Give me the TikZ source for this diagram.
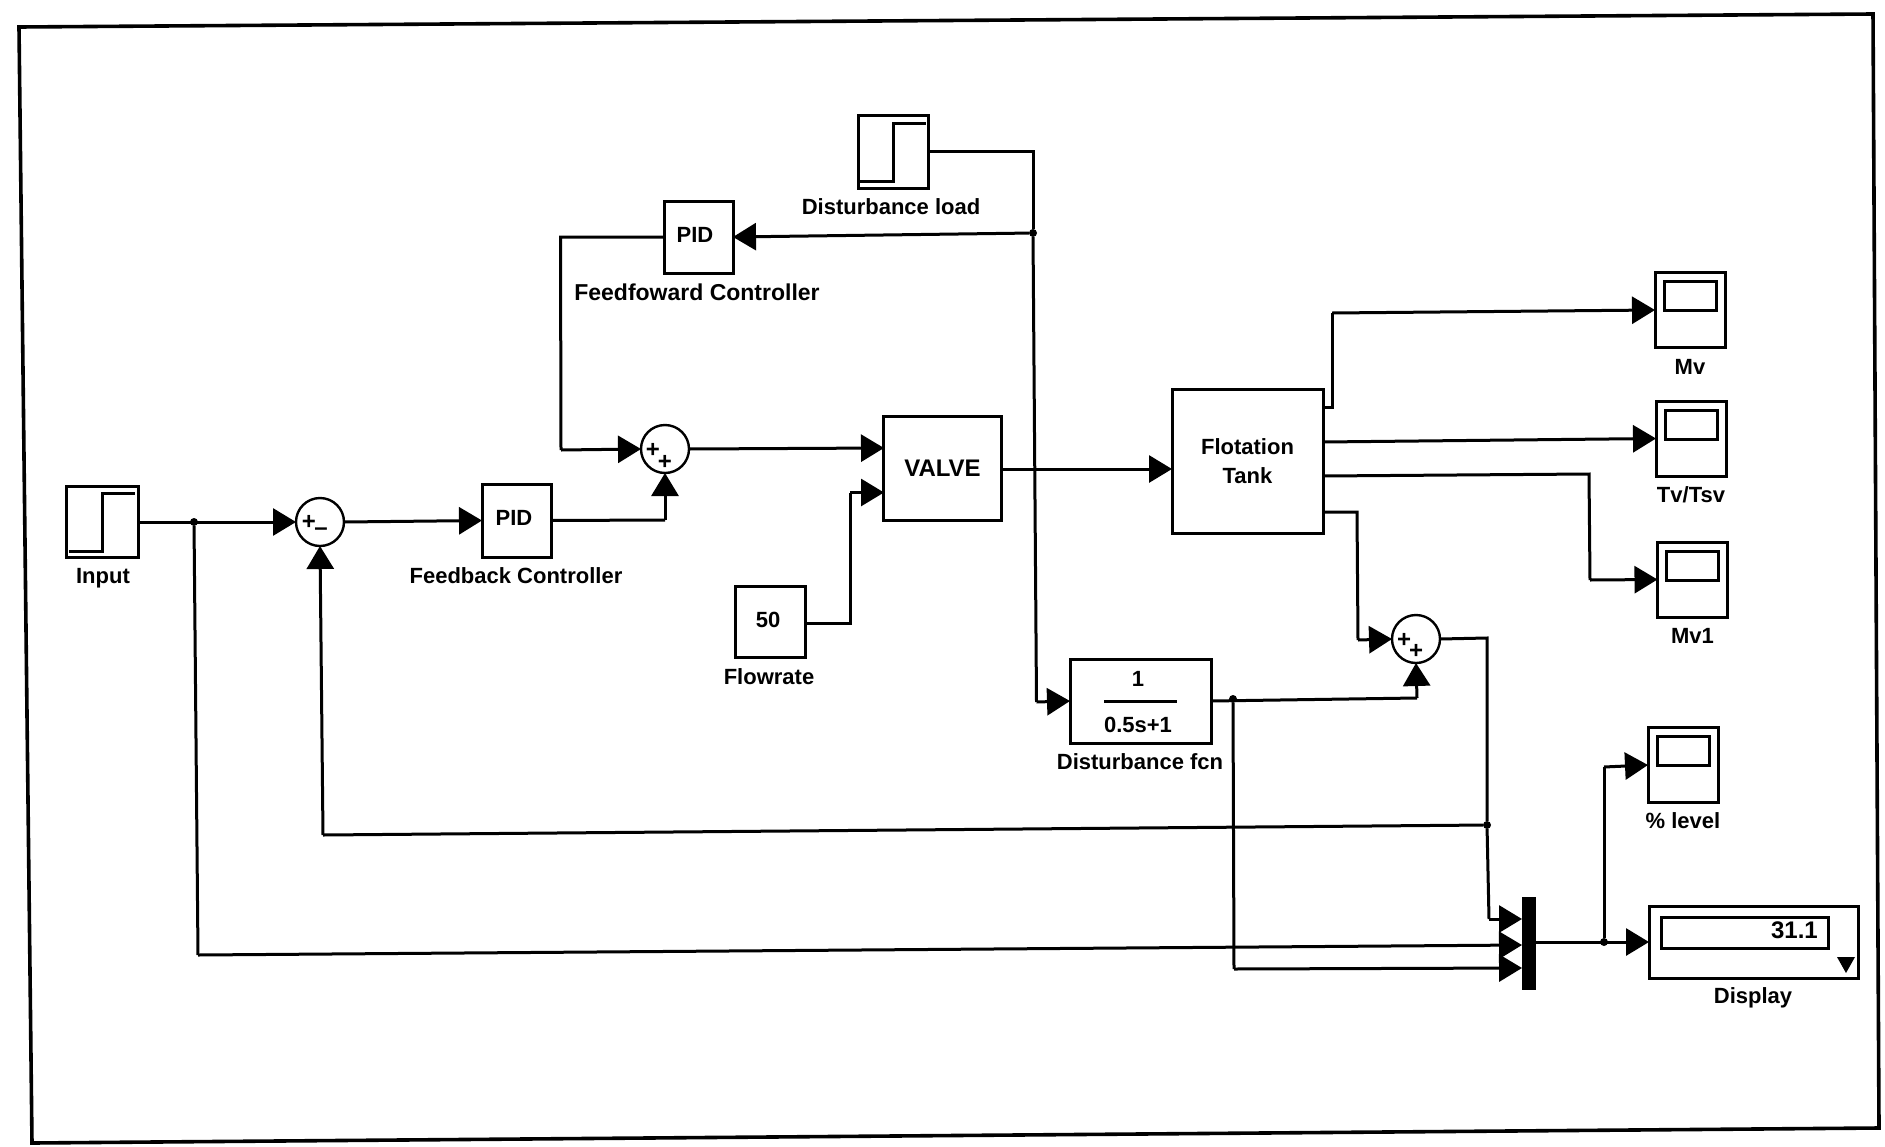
\documentclass[tikz,border=0pt]{standalone}
\usepackage{fontspec}
\setmainfont{Liberation Sans}
\usetikzlibrary{arrows.meta}
\tikzset{
  blockbox/.style={draw, line width=3pt, inner sep=0pt, outer sep=0pt, font=\bfseries\fontsize{22}{29}\selectfont, align=center},
  screenbox/.style={draw, line width=3pt, inner sep=0pt, outer sep=0pt},
  sumcircle/.style={draw, circle, line width=2.4pt, minimum size=48pt, inner sep=0pt, outer sep=0pt},
  signtext/.style={font=\bfseries\fontsize{24}{24}\selectfont, inner sep=0pt},
  lbl/.style={font=\bfseries\fontsize{22}{26}\selectfont, inner sep=0pt},
  junction/.style={circle, fill=black, minimum size=8pt, inner sep=0pt},
  wire/.style={line width=3pt, line join=miter},
  sig/.style={wire, -{Triangle[length=23pt,width=27pt]}}
}
\begin{document}
\begin{tikzpicture}[x=1pt,y=-1pt]
\useasboundingbox (0,0) rectangle (1885,1146);
% Frame
\draw[line width=3.6pt] (19,27) -- (1873,14) -- (1879,1128) -- (32,1143) -- cycle;
% Sources
\node[blockbox, minimum width=72pt, minimum height=71pt] (input) at (102,522) {};
\node[blockbox, minimum width=70pt, minimum height=73pt] (dload) at (893,152) {};
\foreach \nm in {input,dload} {
  \draw[line width=3pt] (\nm.center) ++(-33,29) -- ++(33,0) -- ++(0,-58) -- ++(33,0);
}
\node[lbl] (inputlbl) at (103,578) {Input};
\node[lbl] (dloadlbl) at (891,207) {Disturbance load};
\node[blockbox, minimum width=70pt, minimum height=71pt] (flow) at (770,622) {};
\node[lbl] (flowval) at (768,620) {50};
\node[lbl] (flowlbl) at (769,677) {Flowrate};
% Sums
\node[sumcircle] (sumA) at (320,522) {};
\node[signtext] (sumAp) at (309,522) {+};
\node[signtext] (sumAm) at (321,532) {--};
\node[sumcircle] (sumB) at (665,449) {};
\node[signtext] (sumBp) at (653,450) {+};
\node[signtext] (sumBq) at (665,462) {+};
\node[sumcircle] (sumC) at (1416,639) {};
\node[signtext] (sumCp) at (1404,640) {+};
\node[signtext] (sumCq) at (1416,651) {+};
% Blocks
\node[blockbox, minimum width=69pt, minimum height=73pt] (pidfb) at (516.5,520.5) {};
\node[lbl] (pidfbtxt) at (514,518) {PID};
\node[lbl] (pidfblbl) at (516,576) {Feedback Controller};
\node[blockbox, minimum width=69pt, minimum height=72pt] (pidff) at (698.5,237) {};
\node[lbl] (pidfftxt) at (695,235) {PID};
\node[lbl, font=\bfseries\fontsize{23}{26}\selectfont] (pidfflbl) at (697,292) {Feedfoward Controller};
\node[blockbox, minimum width=118pt, minimum height=104pt, font=\bfseries\fontsize{24}{29}\selectfont] (valve) at (942.5,468.5) {VALVE};
\node[blockbox, minimum width=151pt, minimum height=144pt] (tank) at (1247.5,461) {Flotation\\Tank};
\node[blockbox, minimum width=141pt, minimum height=84pt] (tf) at (1140.5,701) {};
\node[lbl] (tfnum) at (1138,679) {1};
\node[lbl] (tfden) at (1138,725) {0.5s+1};
\draw[line width=3pt] (1104,701) -- (1177,701);
\node[lbl] (tflbl) at (1140,762) {Disturbance fcn};
% Scopes
\foreach \nm/\x/\y/\txt/\ly in {mv/1690/310/Mv/367, tv/1691/438.5/{Tv/Tsv}/495, mva/1692.5/579.5/Mv1/636, lev/1683/765/\% level/821} {
  \node[screenbox, minimum width=70pt, minimum height=75pt] (\nm) at (\x,\y) {};
  \node[screenbox, minimum width=52pt, minimum height=29pt] (\nm scr) at (\x,\y-14) {};
  \node[lbl] (\nm lbl) at (\x,\ly) {\txt};
}
\node[blockbox, minimum width=209pt, minimum height=72pt] (disp) at (1753.5,942) {};
\node[screenbox, minimum width=167pt, minimum height=31pt] (dispval) at (1744.5,932.5) {};
\node[anchor=east, inner sep=0pt, font=\bfseries\fontsize{24}{24}\selectfont] (dispnum) at (1818,930) {31.1};
\fill (1837,957) -- (1855,957) -- (1846,973) -- cycle;
\node[lbl] (displbl) at (1753,998) {Display};
\node[fill=black, minimum width=14pt, minimum height=93pt, inner sep=0pt, outer sep=0pt] (mux) at (1529,943.5) {};
% Junctions
\node[junction] (jA) at (194,522) {};
\node[junction] (jB) at (1033,233) {};
\node[junction] (jC) at (1233,699) {};
\node[junction] (jD) at (1487,825) {};
\node[junction] (jE) at (1604,942) {};
% Bends and ports
\coordinate (dloadout) at (928,151);
\coordinate (dloadbend) at (1033,151);
\coordinate (tfbend) at (1036.5,702);
\coordinate (ffbend) at (560.5,237);
\coordinate (ffdown) at (561,450);
\coordinate (fbup) at (665,520);
\coordinate (flowout) at (805,623);
\coordinate (flowbend) at (850,623);
\coordinate (flowup) at (850,492.5);
\coordinate (valvea) at (884,448);
\coordinate (valveb) at (884,492.5);
\coordinate (tankin) at (1172,469);
\coordinate (valveout) at (1001,469);
\coordinate (tka) at (1323,407);
\coordinate (tkab) at (1332,407);
\coordinate (tkac) at (1332,313);
\coordinate (tkb) at (1323,442);
\coordinate (tkc) at (1323,476);
\coordinate (tkcb) at (1589,474);
\coordinate (tkcc) at (1590,580);
\coordinate (tkd) at (1323,512);
\coordinate (tkdb) at (1357,512);
\coordinate (tkdc) at (1358,640);
\coordinate (tfup) at (1417,698);
\coordinate (sumCb) at (1487,638);
\coordinate (sumCd) at (1489,919);
\coordinate (muxa) at (1522,919);
\coordinate (muxb) at (1522,945);
\coordinate (muxc) at (1522,968);
\coordinate (fbk) at (323,835);
\coordinate (inbend) at (198,955);
\coordinate (tfd) at (1234,969);
\coordinate (levbend) at (1604,767);
% Connectors
\draw[sig] (input.east |- jA) -- (sumA.west);
\draw[sig] (sumA.east) -- (pidfb.west);
\draw[wire] (pidfb.east) -- (fbup);
\draw[sig] (fbup) -- (sumB.south);
\draw[wire] (pidff.west) -- (ffbend) -- (ffdown);
\draw[sig] (ffdown) -- (sumB.west);
\draw[sig] (sumB.east) -- (valvea);
\draw[wire] (flowout) -- (flowbend) -- (flowup);
\draw[sig] (flowup) -- (valveb);
\draw[sig] (valveout) -- (tankin);
\draw[wire] (dloadout) -- (dloadbend) -- (jB);
\draw[sig] (jB) -- (pidff.east);
\draw[wire] (jB) -- (tfbend);
\draw[sig] (tfbend) -- (tf.west);
\draw[wire] (tka) -- (tkab) -- (tkac);
\draw[sig] (tkac) -- (mv.west);
\draw[sig] (tkb) -- (tv.west);
\draw[wire] (tkc) -- (tkcb) -- (tkcc);
\draw[sig] (tkcc) -- (mva.west);
\draw[wire] (tkd) -- (tkdb) -- (tkdc);
\draw[sig] (tkdc) -- (sumC.west);
\draw[wire] (tf.east) -- (tfup);
\draw[sig] (tfup) -- (sumC.south);
\draw[wire] (sumC.east) -- (sumCb) -- (jD) -- (sumCd);
\draw[sig] (sumCd) -- (muxa);
\draw[wire] (jD) -- (fbk);
\draw[sig] (fbk) -- (sumA.south);
\draw[wire] (jA) -- (inbend);
\draw[sig] (inbend) -- (muxb);
\draw[wire] (jC) -- (tfd);
\draw[sig] (tfd) -- (muxc);
\draw[sig] (mux.east |- jE) -- (disp.west);
\draw[wire] (jE) -- (levbend);
\draw[sig] (levbend) -- (lev.west);
\end{tikzpicture}
\end{document}
